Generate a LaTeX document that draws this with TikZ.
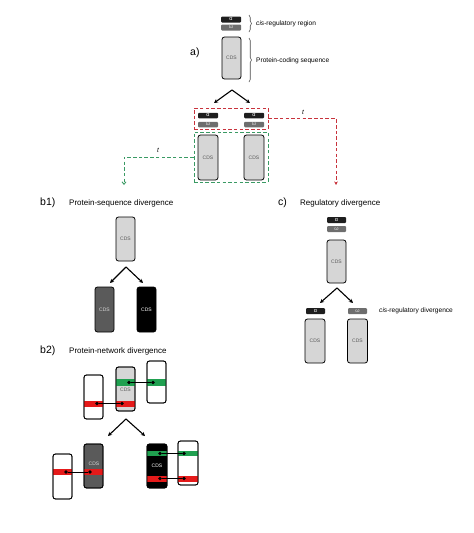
\documentclass[tikz,border=0pt]{standalone}
\usepackage{fontspec}
\setmainfont{Liberation Sans}
\usetikzlibrary{arrows.meta,decorations.pathreplacing}
\definecolor{cdsgray}{HTML}{D6D6D6}
\definecolor{darkcds}{HTML}{5A5A5A}
\definecolor{alphafill}{HTML}{1E1E1E}
\definecolor{omegafill}{HTML}{6E6E6E}
\definecolor{reddash}{HTML}{C8323C}
\definecolor{greendash}{HTML}{3A9A64}
\definecolor{bandred}{HTML}{E51A1A}
\definecolor{bandgreen}{HTML}{20A050}
\begin{document}
\begin{tikzpicture}[x=1pt,y=-1pt,
  cdsbox/.style={draw=black, line width=0.8pt, rounded corners=2.5pt, fill=cdsgray, inner sep=0pt,
     minimum width=19pt, minimum height=44pt, font=\fontsize{5}{5}\selectfont, text=black!65},
  whitebox/.style={cdsbox, fill=white},
  darkbox/.style={cdsbox, fill=darkcds, text=white!85!black},
  blackbox/.style={cdsbox, fill=black, text=white},
  alphabox/.style={fill=alphafill, rounded corners=1pt, inner sep=0pt, minimum width=20pt, minimum height=6pt,
     text=white, font=\fontsize{5.5}{5.5}\selectfont},
  omegabox/.style={alphabox, fill=omegafill, text=white!85!black},
  lbl/.style={anchor=west, inner sep=0pt, font=\fontsize{6.6}{7}\selectfont},
  title/.style={anchor=west, inner sep=0pt, font=\fontsize{8}{9}\selectfont},
  panel/.style={anchor=west, inner sep=0pt, font=\fontsize{10.5}{11}\selectfont},
  arr/.style={-{Stealth[length=4pt,width=4pt]}, line width=1.1pt},
  dashbox/.style={dash pattern=on 3.5pt off 2.2pt, line width=0.9pt, inner sep=0pt},
  dot/.style={circle, fill=black, inner sep=0pt, minimum size=3.6pt},
  link/.style={line width=0.8pt},
  brc/.style={decorate, decoration={brace, amplitude=2.5pt}, line width=0.6pt, black!70}
]
\useasboundingbox (0,0) rectangle (474,533);

% ---------- a) ----------
\node[panel] (la) at (190,53) {a)};
\node[alphabox] (a0) at (231,19.5) {α};
\node[omegabox] (o0) at (231,27.5) {ω};
\node[cdsbox, minimum height=42pt] (c0) at (231.5,58) {CDS};
\draw[brc] (249,15) -- (249,32);
\draw[brc] (249,38) -- (249,82);
\node[lbl] (tcis) at (256,24) {\textit{cis}-regulatory region};
\node[lbl] (tpc) at (256,61) {Protein-coding sequence};
\coordinate (aap) at (232,90);
\coordinate (aal) at (214,103);
\coordinate (aar) at (250,103);
\draw[arr] (aap) -- (aal);
\draw[arr] (aap) -- (aar);

\node[dashbox, draw=reddash, minimum width=74pt, minimum height=21pt] (redbox) at (231,118.5) {};
\node[dashbox, draw=greendash, minimum width=74pt, minimum height=50pt] (greenbox) at (231,157) {};
\node[alphabox, minimum height=5.5pt] (a1) at (208,115.5) {α};
\node[alphabox, minimum height=5.5pt] (a2) at (254,115.5) {α};
\node[omegabox, minimum height=5.5pt] (o1) at (208,124.5) {ω};
\node[omegabox, minimum height=5.5pt] (o2) at (254,124.5) {ω};
\node[cdsbox, minimum width=20pt, minimum height=45pt] (c1) at (208,157.5) {CDS};
\node[cdsbox, minimum width=20pt, minimum height=45pt] (c2) at (254,157.5) {CDS};

\coordinate (redend) at (336,185);
\coordinate (greenend) at (124,185);
\draw[dashbox, draw=reddash, -{Stealth[length=3.5pt,width=3.5pt]}] (redbox.east) -| (redend);
\draw[dashbox, draw=greendash, -{Straight Barb[length=2.5pt,width=4pt]}] (greenbox.west) -| (greenend);
\node[font=\fontsize{6.6}{7}\selectfont\itshape, inner sep=0pt] (t1) at (303,112.5) {t};
\node[font=\fontsize{6.6}{7}\selectfont\itshape, inner sep=0pt] (t2) at (158,150.5) {t};

% ---------- b1) ----------
\node[panel] (lb1) at (40,203) {b1)};
\node[title] (tb1) at (69,203) {Protein-sequence divergence};
\node[cdsbox] (b1c) at (125.5,239) {CDS};
\coordinate (b1ap) at (126,267);
\coordinate (b1al) at (110,283);
\coordinate (b1ar) at (143,283);
\draw[arr] (b1ap) -- (b1al);
\draw[arr] (b1ap) -- (b1ar);
\node[darkbox, minimum height=45pt] (b1d) at (104.5,309.5) {CDS};
\node[blackbox, minimum height=45pt] (b1k) at (146.5,309.5) {CDS};

% ---------- b2) ----------
\node[panel] (lb2) at (40,351) {b2)};
\node[title] (tb2) at (69,351) {Protein-network divergence};
\node[whitebox] (b2l) at (93.5,397) {};
\node[whitebox, minimum height=42pt] (b2r) at (156.5,382) {};
\node[cdsbox] (b2c) at (125.5,389) {};
\fill[bandgreen] (116.4,379) rectangle (134.6,386);
\fill[bandgreen] (147.4,379) rectangle (165.6,386);
\fill[bandred] (84.4,400.5) rectangle (102.6,406.5);
\fill[bandred] (116.4,400.5) rectangle (134.6,406.5);
\node[cdsbox, fill=none] (b2cb) at (125.5,389) {};
\node[whitebox, fill=none] (b2lb) at (93.5,397) {};
\node[whitebox, fill=none, minimum height=42pt] (b2rb) at (156.5,382) {};
\node[font=\fontsize{5}{5}\selectfont, text=black!65, inner sep=0pt] (b2ct) at (125.5,390) {CDS};
\node[dot] (g1) at (129,382.5) {};
\node[dot] (g2) at (153,382.5) {};
\node[dot] (r1) at (97,403.5) {};
\node[dot] (r2) at (122,403.5) {};
\draw[link] (g1) -- (g2);
\draw[link] (r1) -- (r2);
\coordinate (b2ap) at (126,419);
\coordinate (b2al) at (108,436);
\coordinate (b2ar) at (145,436);
\draw[arr] (b2ap) -- (b2al);
\draw[arr] (b2ap) -- (b2ar);

% bottom left pair
\node[whitebox, minimum height=45pt] (bl1) at (62.5,476.5) {};
\node[darkbox] (bl2) at (93.5,466) {};
\fill[bandred] (53.4,469) rectangle (71.6,475);
\fill[bandred] (84.4,469) rectangle (102.6,475);
\node[whitebox, fill=none, minimum height=45pt] (bl1b) at (62.5,476.5) {};
\node[cdsbox, fill=none] (bl2b) at (93.5,466) {};
\node[font=\fontsize{5}{5}\selectfont, text=white!85!black, inner sep=0pt] (bl2t) at (94,464) {CDS};
\node[dot] (r3) at (66,472) {};
\node[dot] (r4) at (90,472) {};
\draw[link] (r3) -- (r4);

% bottom right pair
\node[blackbox, minimum width=20pt] (br1) at (157,466) {};
\node[whitebox, minimum width=20pt] (br2) at (188,463) {};
\fill[bandgreen] (147.4,451) rectangle (166.6,456);
\fill[bandgreen] (178.4,451) rectangle (197.6,456);
\fill[bandred] (147.4,476) rectangle (166.6,481.5);
\fill[bandred] (178.4,476) rectangle (197.6,481.5);
\node[cdsbox, fill=none, minimum width=20pt] (br1b) at (157,466) {};
\node[whitebox, fill=none, minimum width=20pt] (br2b) at (188,463) {};
\node[font=\fontsize{5}{5}\selectfont, text=white, inner sep=0pt] (br1t) at (157,466) {CDS};
\node[dot] (g3) at (160,453.5) {};
\node[dot] (g4) at (184,453.5) {};
\node[dot] (r5) at (160,478.5) {};
\node[dot] (r6) at (184,478.5) {};
\draw[link] (g3) -- (g4);
\draw[link] (r5) -- (r6);

% ---------- c) ----------
\node[panel] (lc) at (278,203) {c)};
\node[title] (tc) at (300,203) {Regulatory divergence};
\node[alphabox, minimum width=19pt] (ca) at (336.5,220) {α};
\node[omegabox, minimum width=19pt] (co) at (336.5,229) {ω};
\node[cdsbox, minimum height=43pt] (cc) at (336.5,261.5) {CDS};
\coordinate (cap) at (337,288);
\coordinate (cal) at (320,303);
\coordinate (car) at (353,303);
\draw[arr] (cap) -- (cal);
\draw[arr] (cap) -- (car);
\node[alphabox, minimum width=19pt] (ca1) at (315.5,311) {α};
\node[omegabox, minimum width=19pt] (co2) at (357.5,311) {ω};
\node[cdsbox, minimum width=20pt] (cc1) at (315,341) {CDS};
\node[cdsbox, minimum width=20pt] (cc2) at (357.5,341) {CDS};
\node[lbl] (tcd) at (379,311) {\textit{cis}-regulatory divergence};
\end{tikzpicture}
\end{document}
